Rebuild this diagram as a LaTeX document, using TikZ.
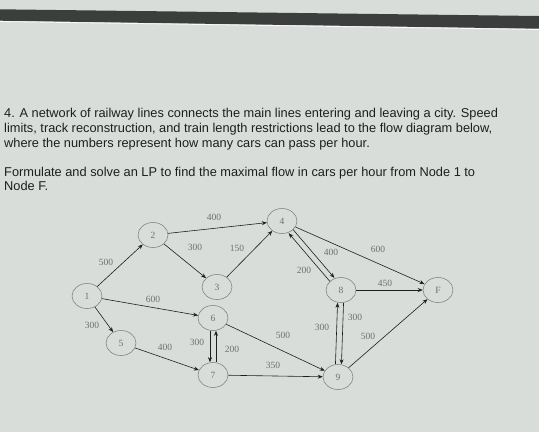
\documentclass[tikz,border=0pt]{standalone}
\usepackage{fontspec}
\setmainfont{Liberation Serif}
\newfontfamily\txtfont{Liberation Sans}
\usetikzlibrary{arrows.meta,shapes.geometric}
\definecolor{bg}{HTML}{D9DDDA}
\definecolor{bar}{HTML}{3C3D3D}
\definecolor{ink}{HTML}{1E1E1E}
\definecolor{lbl}{HTML}{6E706F}
\begin{document}
\begin{tikzpicture}[x=1pt,y=-1pt,
  txt/.style={anchor=west,inner sep=0pt,font=\txtfont\fontsize{12.8}{14}\selectfont,text=ink},
  nd/.style={ellipse,draw=lbl!90!white,line width=0.55pt,minimum width=30pt,minimum height=25pt,inner sep=0pt,font=\fontsize{9.5}{10}\selectfont,text=lbl},
  arr/.style={draw=ink,line width=0.6pt,-{Stealth[length=5pt,width=4pt]}},
  elabel/.style={font=\fontsize{9.5}{10}\selectfont,text=lbl,inner sep=0pt}]
\fill[bg] (0,0) rectangle (539,432);
\useasboundingbox (0,0) rectangle (539,432);
\fill[bar] (0,9.3) -- (539,16) -- (539,28.7) -- (0,20.7) -- cycle;
\draw[white!85!bg,line width=0.8pt] (0,21.5) -- (539,29.5);
% text
\node[txt] (t1) at (4,114.5) {4. A network of railway lines connects the main lines entering and leaving a city. Speed};
\node[txt] (t2) at (4,129.5) {limits, track reconstruction, and train length restrictions lead to the flow diagram below,};
\node[txt] (t3) at (4,144.5) {where the numbers represent how many cars can pass per hour.};
\node[txt] (t4) at (4,173) {Formulate and solve an LP to find the maximal flow in cars per hour from Node 1 to};
\node[txt] (t5) at (4,186) {Node F.};
% nodes
\node[nd] (n1) at (87,296) {1};
\node[nd] (n2) at (153,235) {2};
\node[nd] (n3) at (217,287) {3};
\node[nd] (n4) at (282,221) {4};
\node[nd] (n8) at (341,290) {8};
\node[nd] (nF) at (438,290) {F};
\node[nd] (n6) at (213,318) {6};
\node[nd] (n5) at (121,343) {5};
\node[nd] (n7) at (213,375) {7};
\node[nd] (n9) at (338,377) {9};
% edges
\draw[arr] (n1) -- (n2);
\draw[arr] (n2) -- (n4);
\draw[arr] (n2) -- (n3);
\draw[arr] (n3) -- (n4);
\draw[arr] (n4) -- (nF);
\draw[arr] (n8) -- (nF);
\draw[arr] (n1) -- (n6);
\draw[arr] (n1) -- (n5);
\draw[arr] (n5) -- (n7);
\draw[arr] (n6) -- (n9);
\draw[arr] (n7) -- (n9);
\draw[arr] (n9) -- (nF);
\draw[arr,transform canvas={shift={(2.2pt,1.8pt)}}] (n4) -- (n8);
\draw[arr,transform canvas={shift={(-2.2pt,-1.8pt)}}] (n8) -- (n4);
\draw[arr,transform canvas={xshift=-3pt}] (n6) -- (n7);
\draw[arr,transform canvas={xshift=3pt}] (n7) -- (n6);
\draw[arr,transform canvas={xshift=-3pt}] (n9) -- (n8);
\draw[arr,transform canvas={xshift=3pt}] (n8) -- (n9);
% labels
\node[elabel] (c12) at (106,262) {500};
\node[elabel] (c24) at (214,217) {400};
\node[elabel] (c23) at (195,247) {300};
\node[elabel] (c34) at (237,248) {150};
\node[elabel] (c16) at (153,299) {600};
\node[elabel] (c48) at (331,252) {400};
\node[elabel] (c84) at (304,270) {200};
\node[elabel] (c4F) at (378,249) {600};
\node[elabel] (c8F) at (385,283) {450};
\node[elabel] (c15) at (92,325) {300};
\node[elabel] (c57) at (165,347) {400};
\node[elabel] (c67) at (197,342) {300};
\node[elabel] (c76) at (232,349) {200};
\node[elabel] (c69) at (283,335) {500};
\node[elabel] (c79) at (273,365) {350};
\node[elabel] (c98) at (322,327) {300};
\node[elabel] (c89) at (355,317) {300};
\node[elabel] (c9F) at (368,336) {500};
\end{tikzpicture}
\end{document}
